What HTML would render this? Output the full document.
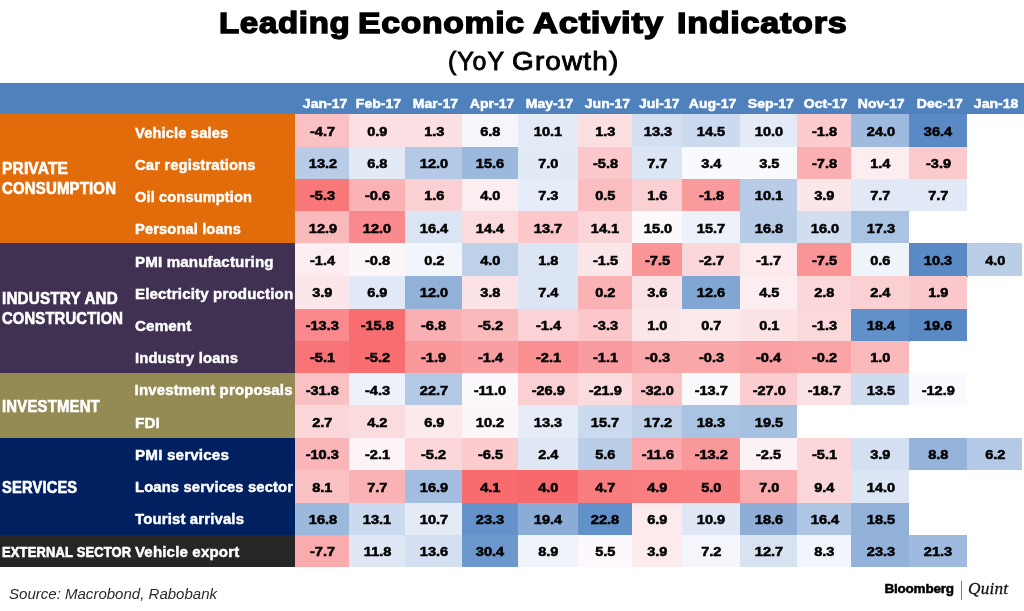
<!DOCTYPE html>
<html lang="en"><head><meta charset="utf-8"><title>Leading Economic Activity Indicators</title>
<style>
html,body{margin:0;padding:0;background:#fff}
body{width:1024px;height:611px;position:relative;overflow:hidden;font-family:"Liberation Sans",sans-serif}
.a{position:absolute}
.title{top:2.5px;font-weight:bold;font-size:30px;line-height:40px;color:#000;-webkit-text-stroke:1.4px #000;letter-spacing:.6px;white-space:nowrap}
h1,h2{margin:0;padding:0;font-size:0;line-height:0;font-weight:normal}
.title,.sub,.gl span,.rl span{display:inline-block;transform-origin:0 50%}
.sub{top:44px;font-size:25.5px;line-height:34px;color:#000;-webkit-text-stroke:.85px #000;letter-spacing:1px;white-space:nowrap}
.hdr{left:0;top:82.8px;width:1024px;height:31px;background:#4f81bd}
.hdr2{left:0;top:113px;width:966.5px;height:1.6px;background:#4f81bd}
.m{top:95.2px;height:18px;line-height:18px;text-align:center;color:#fff;font-weight:bold;font-size:13.3px;-webkit-text-stroke:.5px #fff;white-space:nowrap}
.m span{display:inline-block;transform:scaleX(1.055)}
.g{left:0;width:295.5px}
.gl{left:2.4px;color:#fff;font-weight:bold;font-size:16px;line-height:20px;-webkit-text-stroke:.6px #fff;letter-spacing:.2px;white-space:nowrap}
.rl{left:134.6px;color:#fff;font-weight:bold;font-size:15px;line-height:20px;-webkit-text-stroke:.45px #fff;letter-spacing:.15px;white-space:nowrap}
.c{text-align:center;color:#000;font-weight:bold;font-size:13.4px;height:20px;line-height:20px;-webkit-text-stroke:.55px #000;white-space:nowrap}
.c span{display:inline-block;transform:scaleX(1.09)}
.src{left:9.4px;top:583.5px;font-style:italic;font-size:14.6px;line-height:20px;color:#2b2b2b;white-space:nowrap}
.src span{display:inline-block;transform-origin:0 50%;transform:scaleX(1.03)}
.bb{left:884.4px;top:580px;font-weight:bold;font-size:13.5px;line-height:18px;color:#000;-webkit-text-stroke:.5px #000;letter-spacing:-.2px;white-space:nowrap}
.bar{left:960.7px;top:581px;width:1px;height:18.5px;background:#777}
.q{left:968.4px;top:576.9px;font-family:"Liberation Serif",serif;font-style:italic;font-size:17.5px;line-height:22px;color:#111;-webkit-text-stroke:.3px #111;letter-spacing:.2px;white-space:nowrap}
.q span{display:inline-block;transform-origin:0 50%;transform:scaleX(.985)}
</style></head><body>

<h1><span class="a title" style="left:218.69px;transform:scaleX(1.1017)">Leading</span> <span class="a title" style="left:357.60px;transform:scaleX(1.1253)">Economic</span> <span class="a title" style="left:533.00px;transform:scaleX(1.1540)">Activity</span> <span class="a title" style="left:677.22px;transform:scaleX(1.1408)">Indicators</span></h1>
<h2><span class="a sub" style="left:448.02px;transform:scaleX(0.9786)">(YoY</span> <span class="a sub" style="left:512.27px;transform:scaleX(1.0989)">Growth)</span></h2>
<div class="a hdr"></div><div class="a hdr2"></div>
<div class="a m" style="left:297.6px;width:54px"><span>Jan-17</span></div>
<div class="a m" style="left:350.6px;width:55.5px"><span>Feb-17</span></div>
<div class="a m" style="left:407.1px;width:57.5px"><span>Mar-17</span></div>
<div class="a m" style="left:464.4px;width:55.5px"><span>Apr-17</span></div>
<div class="a m" style="left:519.9px;width:60.0px"><span>May-17</span></div>
<div class="a m" style="left:580.3px;width:54.5px"><span>Jun-17</span></div>
<div class="a m" style="left:634.2px;width:50px"><span>Jul-17</span></div>
<div class="a m" style="left:684.0px;width:57.5px"><span>Aug-17</span></div>
<div class="a m" style="left:741.9px;width:57.5px"><span>Sep-17</span></div>
<div class="a m" style="left:798.7px;width:54px"><span>Oct-17</span></div>
<div class="a m" style="left:852.4px;width:58px"><span>Nov-17</span></div>
<div class="a m" style="left:911.2px;width:57.5px"><span>Dec-17</span></div>
<div class="a m" style="left:968.5px;width:55.5px"><span>Jan-18</span></div>
<div class="a g" style="top:113.8px;height:130.5px;background:#e36c0a"></div>
<div class="a gl" style="top:159.0px"><span style="transform:scaleX(0.967)">PRIVATE</span><br><span style="transform:scaleX(0.934)">CONSUMPTION</span></div>
<div class="a g" style="top:243.3px;height:130.4px;background:#403152"></div>
<div class="a gl" style="top:289.1px"><span style="transform:scaleX(0.952)">INDUSTRY AND</span><br><span style="transform:scaleX(0.923)">CONSTRUCTION</span></div>
<div class="a g" style="top:372.7px;height:65.9px;background:#948a54"></div>
<div class="a gl" style="top:397.2px"><span style="transform:scaleX(0.931)">INVESTMENT</span></div>
<div class="a g" style="top:437.6px;height:97.9px;background:#002060"></div>
<div class="a gl" style="top:477.6px"><span style="transform:scaleX(0.916)">SERVICES</span></div>
<div class="a g" style="top:534.5px;height:32.4px;background:#262626"></div>
<div class="a gl" style="top:542.1px"><span style="transform:scaleX(0.923);font-size:14px">EXTERNAL SECTOR</span></div>
<div class="a rl" style="top:122.7px"><span style="transform:scaleX(0.979)">Vehicle sales</span></div>
<div class="a cb" style="left:295px;top:113.8px;width:55px;height:33.7px;background:#fac1c4"></div>
<div class="a c" style="left:295.6px;top:121.6px;width:54px"><span>-4.7</span></div>
<div class="a cb" style="left:349px;top:113.8px;width:56.5px;height:33.7px;background:#fbe0e3"></div>
<div class="a c" style="left:349.6px;top:121.6px;width:55.5px"><span>0.9</span></div>
<div class="a cb" style="left:404.5px;top:113.8px;width:58.5px;height:33.7px;background:#fbe0e3"></div>
<div class="a c" style="left:405.1px;top:121.6px;width:57.5px"><span>1.3</span></div>
<div class="a cb" style="left:462px;top:113.8px;width:56.5px;height:33.7px;background:#f4f6fc"></div>
<div class="a c" style="left:462.6px;top:121.6px;width:55.5px"><span>6.8</span></div>
<div class="a cb" style="left:517.5px;top:113.8px;width:61.0px;height:33.7px;background:#e4ebf6"></div>
<div class="a c" style="left:518.1px;top:121.6px;width:60.0px"><span>10.1</span></div>
<div class="a cb" style="left:577.5px;top:113.8px;width:55.5px;height:33.7px;background:#fbdfe1"></div>
<div class="a c" style="left:578.1px;top:121.6px;width:54.5px"><span>1.3</span></div>
<div class="a cb" style="left:632px;top:113.8px;width:51px;height:33.7px;background:#d4e0f1"></div>
<div class="a c" style="left:632.6px;top:121.6px;width:50px"><span>13.3</span></div>
<div class="a cb" style="left:682px;top:113.8px;width:58.5px;height:33.7px;background:#cbdaee"></div>
<div class="a c" style="left:682.6px;top:121.6px;width:57.5px"><span>14.5</span></div>
<div class="a cb" style="left:739.5px;top:113.8px;width:58.5px;height:33.7px;background:#e4ebf6"></div>
<div class="a c" style="left:740.1px;top:121.6px;width:57.5px"><span>10.0</span></div>
<div class="a cb" style="left:797px;top:113.8px;width:55px;height:33.7px;background:#fbcbce"></div>
<div class="a c" style="left:797.6px;top:121.6px;width:54px"><span>-1.8</span></div>
<div class="a cb" style="left:851px;top:113.8px;width:59px;height:33.7px;background:#9ebade"></div>
<div class="a c" style="left:851.6px;top:121.6px;width:58px"><span>24.0</span></div>
<div class="a cb" style="left:909px;top:113.8px;width:57.5px;height:33.7px;background:#5a8ac6"></div>
<div class="a c" style="left:909.6px;top:121.6px;width:57.5px"><span>36.4</span></div>
<div class="a rl" style="top:154.9px"><span style="transform:scaleX(0.984)">Car registrations</span></div>
<div class="a cb" style="left:295px;top:146.5px;width:55px;height:33.3px;background:#b8cce7"></div>
<div class="a c" style="left:295.6px;top:154.0px;width:54px"><span>13.2</span></div>
<div class="a cb" style="left:349px;top:146.5px;width:56.5px;height:33.3px;background:#e2eaf6"></div>
<div class="a c" style="left:349.6px;top:154.0px;width:55.5px"><span>6.8</span></div>
<div class="a cb" style="left:404.5px;top:146.5px;width:58.5px;height:33.3px;background:#b3c9e5"></div>
<div class="a c" style="left:405.1px;top:154.0px;width:57.5px"><span>12.0</span></div>
<div class="a cb" style="left:462px;top:146.5px;width:56.5px;height:33.3px;background:#9bb8dd"></div>
<div class="a c" style="left:462.6px;top:154.0px;width:55.5px"><span>15.6</span></div>
<div class="a cb" style="left:517.5px;top:146.5px;width:61.0px;height:33.3px;background:#e2eaf6"></div>
<div class="a c" style="left:518.1px;top:154.0px;width:60.0px"><span>7.0</span></div>
<div class="a cb" style="left:577.5px;top:146.5px;width:55.5px;height:33.3px;background:#fbc9cb"></div>
<div class="a c" style="left:578.1px;top:154.0px;width:54.5px"><span>-5.8</span></div>
<div class="a cb" style="left:632px;top:146.5px;width:51px;height:33.3px;background:#dce5f4"></div>
<div class="a c" style="left:632.6px;top:154.0px;width:50px"><span>7.7</span></div>
<div class="a cb" style="left:682px;top:146.5px;width:58.5px;height:33.3px;background:#f9fafe"></div>
<div class="a c" style="left:682.6px;top:154.0px;width:57.5px"><span>3.4</span></div>
<div class="a cb" style="left:739.5px;top:146.5px;width:58.5px;height:33.3px;background:#f9fafe"></div>
<div class="a c" style="left:740.1px;top:154.0px;width:57.5px"><span>3.5</span></div>
<div class="a cb" style="left:797px;top:146.5px;width:55px;height:33.3px;background:#fab0b2"></div>
<div class="a c" style="left:797.6px;top:154.0px;width:54px"><span>-7.8</span></div>
<div class="a cb" style="left:851px;top:146.5px;width:59px;height:33.3px;background:#fcedf0"></div>
<div class="a c" style="left:851.6px;top:154.0px;width:58px"><span>1.4</span></div>
<div class="a cb" style="left:909px;top:146.5px;width:57.5px;height:33.3px;background:#fbcacd"></div>
<div class="a c" style="left:909.6px;top:154.0px;width:57.5px"><span>-3.9</span></div>
<div class="a rl" style="top:187.1px"><span style="transform:scaleX(0.971)">Oil consumption</span></div>
<div class="a cb" style="left:295px;top:178.8px;width:55px;height:33.0px;background:#f8787a"></div>
<div class="a c" style="left:295.6px;top:186.3px;width:54px"><span>-5.3</span></div>
<div class="a cb" style="left:349px;top:178.8px;width:56.5px;height:33.0px;background:#fab2b5"></div>
<div class="a c" style="left:349.6px;top:186.3px;width:55.5px"><span>-0.6</span></div>
<div class="a cb" style="left:404.5px;top:178.8px;width:58.5px;height:33.0px;background:#fbd0d3"></div>
<div class="a c" style="left:405.1px;top:186.3px;width:57.5px"><span>1.6</span></div>
<div class="a cb" style="left:462px;top:178.8px;width:56.5px;height:33.0px;background:#fcedf0"></div>
<div class="a c" style="left:462.6px;top:186.3px;width:55.5px"><span>4.0</span></div>
<div class="a cb" style="left:517.5px;top:178.8px;width:61.0px;height:33.0px;background:#e7edf8"></div>
<div class="a c" style="left:518.1px;top:186.3px;width:60.0px"><span>7.3</span></div>
<div class="a cb" style="left:577.5px;top:178.8px;width:55.5px;height:33.0px;background:#fabec1"></div>
<div class="a c" style="left:578.1px;top:186.3px;width:54.5px"><span>0.5</span></div>
<div class="a cb" style="left:632px;top:178.8px;width:51px;height:33.0px;background:#fbd0d3"></div>
<div class="a c" style="left:632.6px;top:186.3px;width:50px"><span>1.6</span></div>
<div class="a cb" style="left:682px;top:178.8px;width:58.5px;height:33.0px;background:#f99b9d"></div>
<div class="a c" style="left:682.6px;top:186.3px;width:57.5px"><span>-1.8</span></div>
<div class="a cb" style="left:739.5px;top:178.8px;width:58.5px;height:33.0px;background:#b8cce7"></div>
<div class="a c" style="left:740.1px;top:186.3px;width:57.5px"><span>10.1</span></div>
<div class="a cb" style="left:797px;top:178.8px;width:55px;height:33.0px;background:#fbe7ea"></div>
<div class="a c" style="left:797.6px;top:186.3px;width:54px"><span>3.9</span></div>
<div class="a cb" style="left:851px;top:178.8px;width:59px;height:33.0px;background:#e0e9f5"></div>
<div class="a c" style="left:851.6px;top:186.3px;width:58px"><span>7.7</span></div>
<div class="a cb" style="left:909px;top:178.8px;width:57.5px;height:32.0px;background:#e0e9f5"></div>
<div class="a c" style="left:909.6px;top:186.3px;width:57.5px"><span>7.7</span></div>
<div class="a rl" style="top:219.3px"><span style="transform:scaleX(0.975)">Personal loans</span></div>
<div class="a cb" style="left:295px;top:210.8px;width:55px;height:33.5px;background:#fababc"></div>
<div class="a c" style="left:295.6px;top:218.7px;width:54px"><span>12.9</span></div>
<div class="a cb" style="left:349px;top:210.8px;width:56.5px;height:33.5px;background:#f9898c"></div>
<div class="a c" style="left:349.6px;top:218.7px;width:55.5px"><span>12.0</span></div>
<div class="a cb" style="left:404.5px;top:210.8px;width:58.5px;height:33.5px;background:#dae4f3"></div>
<div class="a c" style="left:405.1px;top:218.7px;width:57.5px"><span>16.4</span></div>
<div class="a cb" style="left:462px;top:210.8px;width:56.5px;height:33.5px;background:#fbdcde"></div>
<div class="a c" style="left:462.6px;top:218.7px;width:55.5px"><span>14.4</span></div>
<div class="a cb" style="left:517.5px;top:210.8px;width:61.0px;height:33.5px;background:#fbc7ca"></div>
<div class="a c" style="left:518.1px;top:218.7px;width:60.0px"><span>13.7</span></div>
<div class="a cb" style="left:577.5px;top:210.8px;width:55.5px;height:33.5px;background:#fbd6d9"></div>
<div class="a c" style="left:578.1px;top:218.7px;width:54.5px"><span>14.1</span></div>
<div class="a cb" style="left:632px;top:210.8px;width:51px;height:33.5px;background:#fcf9fc"></div>
<div class="a c" style="left:632.6px;top:218.7px;width:50px"><span>15.0</span></div>
<div class="a cb" style="left:682px;top:210.8px;width:58.5px;height:33.5px;background:#edf2fa"></div>
<div class="a c" style="left:682.6px;top:218.7px;width:57.5px"><span>15.7</span></div>
<div class="a cb" style="left:739.5px;top:210.8px;width:58.5px;height:33.5px;background:#b6cbe6"></div>
<div class="a c" style="left:740.1px;top:218.7px;width:57.5px"><span>16.8</span></div>
<div class="a cb" style="left:797px;top:210.8px;width:55px;height:33.5px;background:#d2def0"></div>
<div class="a c" style="left:797.6px;top:218.7px;width:54px"><span>16.0</span></div>
<div class="a cb" style="left:851px;top:210.8px;width:58px;height:33.5px;background:#abc3e2"></div>
<div class="a c" style="left:851.6px;top:218.7px;width:58px"><span>17.3</span></div>
<div class="a rl" style="top:251.6px"><span style="transform:scaleX(1.008)">PMI manufacturing</span></div>
<div class="a cb" style="left:295px;top:243.3px;width:55px;height:33.7px;background:#fcedf0"></div>
<div class="a c" style="left:295.6px;top:251.1px;width:54px"><span>-1.4</span></div>
<div class="a cb" style="left:349px;top:243.3px;width:56.5px;height:33.7px;background:#fcf6f9"></div>
<div class="a c" style="left:349.6px;top:251.1px;width:55.5px"><span>-0.8</span></div>
<div class="a cb" style="left:404.5px;top:243.3px;width:58.5px;height:33.7px;background:#f2f5fc"></div>
<div class="a c" style="left:405.1px;top:251.1px;width:57.5px"><span>0.2</span></div>
<div class="a cb" style="left:462px;top:243.3px;width:56.5px;height:33.7px;background:#bed1e9"></div>
<div class="a c" style="left:462.6px;top:251.1px;width:55.5px"><span>4.0</span></div>
<div class="a cb" style="left:517.5px;top:243.3px;width:61.0px;height:33.7px;background:#dce5f4"></div>
<div class="a c" style="left:518.1px;top:251.1px;width:60.0px"><span>1.8</span></div>
<div class="a cb" style="left:577.5px;top:243.3px;width:55.5px;height:33.7px;background:#fbe7ea"></div>
<div class="a c" style="left:578.1px;top:251.1px;width:54.5px"><span>-1.5</span></div>
<div class="a cb" style="left:632px;top:243.3px;width:51px;height:33.7px;background:#f99597"></div>
<div class="a c" style="left:632.6px;top:251.1px;width:50px"><span>-7.5</span></div>
<div class="a cb" style="left:682px;top:243.3px;width:58.5px;height:33.7px;background:#fbd7da"></div>
<div class="a c" style="left:682.6px;top:251.1px;width:57.5px"><span>-2.7</span></div>
<div class="a cb" style="left:739.5px;top:243.3px;width:58.5px;height:33.7px;background:#fceaed"></div>
<div class="a c" style="left:740.1px;top:251.1px;width:57.5px"><span>-1.7</span></div>
<div class="a cb" style="left:797px;top:243.3px;width:55px;height:33.7px;background:#f99597"></div>
<div class="a c" style="left:797.6px;top:251.1px;width:54px"><span>-7.5</span></div>
<div class="a cb" style="left:851px;top:243.3px;width:59px;height:33.7px;background:#eff3fa"></div>
<div class="a c" style="left:851.6px;top:251.1px;width:58px"><span>0.6</span></div>
<div class="a cb" style="left:909px;top:243.3px;width:58.5px;height:33.7px;background:#5a8ac6"></div>
<div class="a c" style="left:909.6px;top:251.1px;width:57.5px"><span>10.3</span></div>
<div class="a cb" style="left:966.5px;top:243.3px;width:55.5px;height:32.7px;background:#bbcee8"></div>
<div class="a c" style="left:967.1px;top:251.1px;width:55.5px"><span>4.0</span></div>
<div class="a rl" style="top:283.8px"><span style="transform:scaleX(1.005)">Electricity production</span></div>
<div class="a cb" style="left:295px;top:276.0px;width:55px;height:33.5px;background:#fbe6e9"></div>
<div class="a c" style="left:295.6px;top:283.4px;width:54px"><span>3.9</span></div>
<div class="a cb" style="left:349px;top:276.0px;width:56.5px;height:33.5px;background:#e0e9f5"></div>
<div class="a c" style="left:349.6px;top:283.4px;width:55.5px"><span>6.9</span></div>
<div class="a cb" style="left:404.5px;top:276.0px;width:58.5px;height:33.5px;background:#91b1d9"></div>
<div class="a c" style="left:405.1px;top:283.4px;width:57.5px"><span>12.0</span></div>
<div class="a cb" style="left:462px;top:276.0px;width:56.5px;height:33.5px;background:#fbe2e4"></div>
<div class="a c" style="left:462.6px;top:283.4px;width:55.5px"><span>3.8</span></div>
<div class="a cb" style="left:517.5px;top:276.0px;width:61.0px;height:33.5px;background:#dce5f4"></div>
<div class="a c" style="left:518.1px;top:283.4px;width:60.0px"><span>7.4</span></div>
<div class="a cb" style="left:577.5px;top:276.0px;width:55.5px;height:33.5px;background:#fab2b5"></div>
<div class="a c" style="left:578.1px;top:283.4px;width:54.5px"><span>0.2</span></div>
<div class="a cb" style="left:632px;top:276.0px;width:51px;height:33.5px;background:#fbe2e4"></div>
<div class="a c" style="left:632.6px;top:283.4px;width:50px"><span>3.6</span></div>
<div class="a cb" style="left:682px;top:276.0px;width:58.5px;height:33.5px;background:#82a6d4"></div>
<div class="a c" style="left:682.6px;top:283.4px;width:57.5px"><span>12.6</span></div>
<div class="a cb" style="left:739.5px;top:276.0px;width:58.5px;height:33.5px;background:#fcedf0"></div>
<div class="a c" style="left:740.1px;top:283.4px;width:57.5px"><span>4.5</span></div>
<div class="a cb" style="left:797px;top:276.0px;width:55px;height:33.5px;background:#fbd7da"></div>
<div class="a c" style="left:797.6px;top:283.4px;width:54px"><span>2.8</span></div>
<div class="a cb" style="left:851px;top:276.0px;width:59px;height:33.5px;background:#fbd0d3"></div>
<div class="a c" style="left:851.6px;top:283.4px;width:58px"><span>2.4</span></div>
<div class="a cb" style="left:909px;top:276.0px;width:57.5px;height:33.5px;background:#fbc9cb"></div>
<div class="a c" style="left:909.6px;top:283.4px;width:57.5px"><span>1.9</span></div>
<div class="a rl" style="top:316.0px"><span style="transform:scaleX(1.01)">Cement</span></div>
<div class="a cb" style="left:295px;top:308.5px;width:55px;height:33.5px;background:#f9898c"></div>
<div class="a c" style="left:295.6px;top:315.8px;width:54px"><span>-13.3</span></div>
<div class="a cb" style="left:349px;top:308.5px;width:56.5px;height:33.5px;background:#f86d6f"></div>
<div class="a c" style="left:349.6px;top:315.8px;width:55.5px"><span>-15.8</span></div>
<div class="a cb" style="left:404.5px;top:308.5px;width:58.5px;height:33.5px;background:#fab0b2"></div>
<div class="a c" style="left:405.1px;top:315.8px;width:57.5px"><span>-6.8</span></div>
<div class="a cb" style="left:462px;top:308.5px;width:56.5px;height:33.5px;background:#fababc"></div>
<div class="a c" style="left:462.6px;top:315.8px;width:55.5px"><span>-5.2</span></div>
<div class="a cb" style="left:517.5px;top:308.5px;width:61.0px;height:33.5px;background:#fbd3d6"></div>
<div class="a c" style="left:518.1px;top:315.8px;width:60.0px"><span>-1.4</span></div>
<div class="a cb" style="left:577.5px;top:308.5px;width:55.5px;height:33.5px;background:#fbc7ca"></div>
<div class="a c" style="left:578.1px;top:315.8px;width:54.5px"><span>-3.3</span></div>
<div class="a cb" style="left:632px;top:308.5px;width:51px;height:33.5px;background:#fbe6e9"></div>
<div class="a c" style="left:632.6px;top:315.8px;width:50px"><span>1.0</span></div>
<div class="a cb" style="left:682px;top:308.5px;width:58.5px;height:33.5px;background:#fbe9ec"></div>
<div class="a c" style="left:682.6px;top:315.8px;width:57.5px"><span>0.7</span></div>
<div class="a cb" style="left:739.5px;top:308.5px;width:58.5px;height:33.5px;background:#fbe3e6"></div>
<div class="a c" style="left:740.1px;top:315.8px;width:57.5px"><span>0.1</span></div>
<div class="a cb" style="left:797px;top:308.5px;width:55px;height:33.5px;background:#fbd9db"></div>
<div class="a c" style="left:797.6px;top:315.8px;width:54px"><span>-1.3</span></div>
<div class="a cb" style="left:851px;top:308.5px;width:59px;height:33.5px;background:#6290c9"></div>
<div class="a c" style="left:851.6px;top:315.8px;width:58px"><span>18.4</span></div>
<div class="a cb" style="left:909px;top:308.5px;width:57.5px;height:32.5px;background:#5a8ac6"></div>
<div class="a c" style="left:909.6px;top:315.8px;width:57.5px"><span>19.6</span></div>
<div class="a rl" style="top:348.2px"><span style="transform:scaleX(0.985)">Industry loans</span></div>
<div class="a cb" style="left:295px;top:341.0px;width:55px;height:32.7px;background:#f87375"></div>
<div class="a c" style="left:295.6px;top:348.2px;width:54px"><span>-5.1</span></div>
<div class="a cb" style="left:349px;top:341.0px;width:56.5px;height:32.7px;background:#f86d6f"></div>
<div class="a c" style="left:349.6px;top:348.2px;width:55.5px"><span>-5.2</span></div>
<div class="a cb" style="left:404.5px;top:341.0px;width:58.5px;height:32.7px;background:#f9989a"></div>
<div class="a c" style="left:405.1px;top:348.2px;width:57.5px"><span>-1.9</span></div>
<div class="a cb" style="left:462px;top:341.0px;width:56.5px;height:32.7px;background:#f99fa2"></div>
<div class="a c" style="left:462.6px;top:348.2px;width:55.5px"><span>-1.4</span></div>
<div class="a cb" style="left:517.5px;top:341.0px;width:61.0px;height:32.7px;background:#f98f91"></div>
<div class="a c" style="left:518.1px;top:348.2px;width:60.0px"><span>-2.1</span></div>
<div class="a cb" style="left:577.5px;top:341.0px;width:55.5px;height:32.7px;background:#f99c9f"></div>
<div class="a c" style="left:578.1px;top:348.2px;width:54.5px"><span>-1.1</span></div>
<div class="a cb" style="left:632px;top:341.0px;width:51px;height:32.7px;background:#faa7a9"></div>
<div class="a c" style="left:632.6px;top:348.2px;width:50px"><span>-0.3</span></div>
<div class="a cb" style="left:682px;top:341.0px;width:58.5px;height:32.7px;background:#faa7a9"></div>
<div class="a c" style="left:682.6px;top:348.2px;width:57.5px"><span>-0.3</span></div>
<div class="a cb" style="left:739.5px;top:341.0px;width:58.5px;height:32.7px;background:#faa1a3"></div>
<div class="a c" style="left:740.1px;top:348.2px;width:57.5px"><span>-0.4</span></div>
<div class="a cb" style="left:797px;top:341.0px;width:55px;height:32.7px;background:#faa4a6"></div>
<div class="a c" style="left:797.6px;top:348.2px;width:54px"><span>-0.2</span></div>
<div class="a cb" style="left:851px;top:341.0px;width:58px;height:32.7px;background:#fababc"></div>
<div class="a c" style="left:851.6px;top:348.2px;width:58px"><span>1.0</span></div>
<div class="a rl" style="top:380.4px"><span style="transform:scaleX(1.0)">Investment proposals</span></div>
<div class="a cb" style="left:295px;top:372.7px;width:55px;height:33.6px;background:#fac1c4"></div>
<div class="a c" style="left:295.6px;top:380.6px;width:54px"><span>-31.8</span></div>
<div class="a cb" style="left:349px;top:372.7px;width:56.5px;height:33.6px;background:#edf2fa"></div>
<div class="a c" style="left:349.6px;top:380.6px;width:55.5px"><span>-4.3</span></div>
<div class="a cb" style="left:404.5px;top:372.7px;width:58.5px;height:33.6px;background:#b3c9e5"></div>
<div class="a c" style="left:405.1px;top:380.6px;width:57.5px"><span>22.7</span></div>
<div class="a cb" style="left:462px;top:372.7px;width:56.5px;height:33.6px;background:#fcf9fc"></div>
<div class="a c" style="left:462.6px;top:380.6px;width:55.5px"><span>-11.0</span></div>
<div class="a cb" style="left:517.5px;top:372.7px;width:61.0px;height:33.6px;background:#fbd0d3"></div>
<div class="a c" style="left:518.1px;top:380.6px;width:60.0px"><span>-26.9</span></div>
<div class="a cb" style="left:577.5px;top:372.7px;width:55.5px;height:33.6px;background:#fbdcde"></div>
<div class="a c" style="left:578.1px;top:380.6px;width:54.5px"><span>-21.9</span></div>
<div class="a cb" style="left:632px;top:372.7px;width:51px;height:33.6px;background:#fac4c7"></div>
<div class="a c" style="left:632.6px;top:380.6px;width:50px"><span>-32.0</span></div>
<div class="a cb" style="left:682px;top:372.7px;width:58.5px;height:33.6px;background:#fcf9fc"></div>
<div class="a c" style="left:682.6px;top:380.6px;width:57.5px"><span>-13.7</span></div>
<div class="a cb" style="left:739.5px;top:372.7px;width:58.5px;height:33.6px;background:#fbcdd0"></div>
<div class="a c" style="left:740.1px;top:380.6px;width:57.5px"><span>-27.0</span></div>
<div class="a cb" style="left:797px;top:372.7px;width:55px;height:32.6px;background:#fbe2e4"></div>
<div class="a c" style="left:797.6px;top:380.6px;width:54px"><span>-18.7</span></div>
<div class="a cb" style="left:851px;top:372.7px;width:59px;height:32.6px;background:#cfdcef"></div>
<div class="a c" style="left:851.6px;top:380.6px;width:58px"><span>13.5</span></div>
<div class="a cb" style="left:909px;top:372.7px;width:57.5px;height:32.6px;background:#f9fafe"></div>
<div class="a c" style="left:909.6px;top:380.6px;width:57.5px"><span>-12.9</span></div>
<div class="a rl" style="top:412.6px"><span style="transform:scaleX(1.01)">FDI</span></div>
<div class="a cb" style="left:295px;top:405.3px;width:55px;height:33.3px;background:#fbd7da"></div>
<div class="a c" style="left:295.6px;top:412.9px;width:54px"><span>2.7</span></div>
<div class="a cb" style="left:349px;top:405.3px;width:56.5px;height:33.3px;background:#fbdcde"></div>
<div class="a c" style="left:349.6px;top:412.9px;width:55.5px"><span>4.2</span></div>
<div class="a cb" style="left:404.5px;top:405.3px;width:58.5px;height:33.3px;background:#fbe9ec"></div>
<div class="a c" style="left:405.1px;top:412.9px;width:57.5px"><span>6.9</span></div>
<div class="a cb" style="left:462px;top:405.3px;width:56.5px;height:33.3px;background:#fcf6f9"></div>
<div class="a c" style="left:462.6px;top:412.9px;width:55.5px"><span>10.2</span></div>
<div class="a cb" style="left:517.5px;top:405.3px;width:61.0px;height:33.3px;background:#e7edf8"></div>
<div class="a c" style="left:518.1px;top:412.9px;width:60.0px"><span>13.3</span></div>
<div class="a cb" style="left:577.5px;top:405.3px;width:55.5px;height:33.3px;background:#cbdaee"></div>
<div class="a c" style="left:578.1px;top:412.9px;width:54.5px"><span>15.7</span></div>
<div class="a cb" style="left:632px;top:405.3px;width:51px;height:33.3px;background:#bed1e9"></div>
<div class="a c" style="left:632.6px;top:412.9px;width:50px"><span>17.2</span></div>
<div class="a cb" style="left:682px;top:405.3px;width:58.5px;height:33.3px;background:#abc3e2"></div>
<div class="a c" style="left:682.6px;top:412.9px;width:57.5px"><span>18.3</span></div>
<div class="a cb" style="left:739.5px;top:405.3px;width:57.5px;height:33.3px;background:#a6c0e1"></div>
<div class="a c" style="left:740.1px;top:412.9px;width:57.5px"><span>19.5</span></div>
<div class="a rl" style="top:444.9px"><span style="transform:scaleX(1.015)">PMI services</span></div>
<div class="a cb" style="left:295px;top:437.6px;width:55px;height:33.4px;background:#fab5b8"></div>
<div class="a c" style="left:295.6px;top:445.3px;width:54px"><span>-10.3</span></div>
<div class="a cb" style="left:349px;top:437.6px;width:56.5px;height:33.4px;background:#fcf3f6"></div>
<div class="a c" style="left:349.6px;top:445.3px;width:55.5px"><span>-2.1</span></div>
<div class="a cb" style="left:404.5px;top:437.6px;width:58.5px;height:33.4px;background:#fbd7da"></div>
<div class="a c" style="left:405.1px;top:445.3px;width:57.5px"><span>-5.2</span></div>
<div class="a cb" style="left:462px;top:437.6px;width:56.5px;height:33.4px;background:#fbcbce"></div>
<div class="a c" style="left:462.6px;top:445.3px;width:55.5px"><span>-6.5</span></div>
<div class="a cb" style="left:517.5px;top:437.6px;width:61.0px;height:33.4px;background:#dfe7f5"></div>
<div class="a c" style="left:518.1px;top:445.3px;width:60.0px"><span>2.4</span></div>
<div class="a cb" style="left:577.5px;top:437.6px;width:55.5px;height:33.4px;background:#bbcee8"></div>
<div class="a c" style="left:578.1px;top:445.3px;width:54.5px"><span>5.6</span></div>
<div class="a cb" style="left:632px;top:437.6px;width:51px;height:33.4px;background:#faa8ab"></div>
<div class="a c" style="left:632.6px;top:445.3px;width:50px"><span>-11.6</span></div>
<div class="a cb" style="left:682px;top:437.6px;width:58.5px;height:33.4px;background:#f9989a"></div>
<div class="a c" style="left:682.6px;top:445.3px;width:57.5px"><span>-13.2</span></div>
<div class="a cb" style="left:739.5px;top:437.6px;width:58.5px;height:33.4px;background:#fcf2f5"></div>
<div class="a c" style="left:740.1px;top:445.3px;width:57.5px"><span>-2.5</span></div>
<div class="a cb" style="left:797px;top:437.6px;width:55px;height:33.4px;background:#fbd7da"></div>
<div class="a c" style="left:797.6px;top:445.3px;width:54px"><span>-5.1</span></div>
<div class="a cb" style="left:851px;top:437.6px;width:59px;height:33.4px;background:#d4e0f1"></div>
<div class="a c" style="left:851.6px;top:445.3px;width:58px"><span>3.9</span></div>
<div class="a cb" style="left:909px;top:437.6px;width:58.5px;height:32.4px;background:#96b4db"></div>
<div class="a c" style="left:909.6px;top:445.3px;width:57.5px"><span>8.8</span></div>
<div class="a cb" style="left:966.5px;top:437.6px;width:55.5px;height:32.4px;background:#b3c9e5"></div>
<div class="a c" style="left:967.1px;top:445.3px;width:55.5px"><span>6.2</span></div>
<div class="a rl" style="top:477.1px"><span style="transform:scaleX(0.984)">Loans services sector</span></div>
<div class="a cb" style="left:295px;top:470.0px;width:55px;height:33.5px;background:#fac1c4"></div>
<div class="a c" style="left:295.6px;top:477.7px;width:54px"><span>8.1</span></div>
<div class="a cb" style="left:349px;top:470.0px;width:56.5px;height:33.5px;background:#fab2b5"></div>
<div class="a c" style="left:349.6px;top:477.7px;width:55.5px"><span>7.7</span></div>
<div class="a cb" style="left:404.5px;top:470.0px;width:58.5px;height:33.5px;background:#a3bde0"></div>
<div class="a c" style="left:405.1px;top:477.7px;width:57.5px"><span>16.9</span></div>
<div class="a cb" style="left:462px;top:470.0px;width:56.5px;height:33.5px;background:#f86c6e"></div>
<div class="a c" style="left:462.6px;top:477.7px;width:55.5px"><span>4.1</span></div>
<div class="a cb" style="left:517.5px;top:470.0px;width:61.0px;height:33.5px;background:#f8696b"></div>
<div class="a c" style="left:518.1px;top:477.7px;width:60.0px"><span>4.0</span></div>
<div class="a cb" style="left:577.5px;top:470.0px;width:55.5px;height:33.5px;background:#f97c7e"></div>
<div class="a c" style="left:578.1px;top:477.7px;width:54.5px"><span>4.7</span></div>
<div class="a cb" style="left:632px;top:470.0px;width:51px;height:33.5px;background:#f97f81"></div>
<div class="a c" style="left:632.6px;top:477.7px;width:50px"><span>4.9</span></div>
<div class="a cb" style="left:682px;top:470.0px;width:58.5px;height:33.5px;background:#f98183"></div>
<div class="a c" style="left:682.6px;top:477.7px;width:57.5px"><span>5.0</span></div>
<div class="a cb" style="left:739.5px;top:470.0px;width:58.5px;height:33.5px;background:#faabae"></div>
<div class="a c" style="left:740.1px;top:477.7px;width:57.5px"><span>7.0</span></div>
<div class="a cb" style="left:797px;top:470.0px;width:55px;height:33.5px;background:#fbd7da"></div>
<div class="a c" style="left:797.6px;top:477.7px;width:54px"><span>9.4</span></div>
<div class="a cb" style="left:851px;top:470.0px;width:58px;height:33.5px;background:#dce5f4"></div>
<div class="a c" style="left:851.6px;top:477.7px;width:58px"><span>14.0</span></div>
<div class="a rl" style="top:509.3px"><span style="transform:scaleX(0.995)">Tourist arrivals</span></div>
<div class="a cb" style="left:295px;top:502.5px;width:55px;height:33.0px;background:#9bb8dd"></div>
<div class="a c" style="left:295.6px;top:510.0px;width:54px"><span>16.8</span></div>
<div class="a cb" style="left:349px;top:502.5px;width:56.5px;height:33.0px;background:#cbdaee"></div>
<div class="a c" style="left:349.6px;top:510.0px;width:55.5px"><span>13.1</span></div>
<div class="a cb" style="left:404.5px;top:502.5px;width:58.5px;height:33.0px;background:#e4ebf6"></div>
<div class="a c" style="left:405.1px;top:510.0px;width:57.5px"><span>10.7</span></div>
<div class="a cb" style="left:462px;top:502.5px;width:56.5px;height:33.0px;background:#6592ca"></div>
<div class="a c" style="left:462.6px;top:510.0px;width:55.5px"><span>23.3</span></div>
<div class="a cb" style="left:517.5px;top:502.5px;width:61.0px;height:33.0px;background:#8bacd7"></div>
<div class="a c" style="left:518.1px;top:510.0px;width:60.0px"><span>19.4</span></div>
<div class="a cb" style="left:577.5px;top:502.5px;width:55.5px;height:33.0px;background:#6290c9"></div>
<div class="a c" style="left:578.1px;top:510.0px;width:54.5px"><span>22.8</span></div>
<div class="a cb" style="left:632px;top:502.5px;width:51px;height:33.0px;background:#fceaed"></div>
<div class="a c" style="left:632.6px;top:510.0px;width:50px"><span>6.9</span></div>
<div class="a cb" style="left:682px;top:502.5px;width:58.5px;height:33.0px;background:#dfe7f5"></div>
<div class="a c" style="left:682.6px;top:510.0px;width:57.5px"><span>10.9</span></div>
<div class="a cb" style="left:739.5px;top:502.5px;width:58.5px;height:33.0px;background:#8eaed8"></div>
<div class="a c" style="left:740.1px;top:510.0px;width:57.5px"><span>18.6</span></div>
<div class="a cb" style="left:797px;top:502.5px;width:55px;height:33.0px;background:#aec5e4"></div>
<div class="a c" style="left:797.6px;top:510.0px;width:54px"><span>16.4</span></div>
<div class="a cb" style="left:851px;top:502.5px;width:58px;height:33.0px;background:#91b1d9"></div>
<div class="a c" style="left:851.6px;top:510.0px;width:58px"><span>18.5</span></div>
<div class="a rl" style="top:541.5px"><span style="transform:scaleX(1.005)">Vehicle export</span></div>
<div class="a cb" style="left:295px;top:534.5px;width:55px;height:32.4px;background:#faabae"></div>
<div class="a c" style="left:295.6px;top:542.4px;width:54px"><span>-7.7</span></div>
<div class="a cb" style="left:349px;top:534.5px;width:56.5px;height:32.4px;background:#dfe7f5"></div>
<div class="a c" style="left:349.6px;top:542.4px;width:55.5px"><span>11.8</span></div>
<div class="a cb" style="left:404.5px;top:534.5px;width:58.5px;height:32.4px;background:#d4e0f1"></div>
<div class="a c" style="left:405.1px;top:542.4px;width:57.5px"><span>13.6</span></div>
<div class="a cb" style="left:462px;top:534.5px;width:56.5px;height:32.4px;background:#6d98cd"></div>
<div class="a c" style="left:462.6px;top:542.4px;width:55.5px"><span>30.4</span></div>
<div class="a cb" style="left:517.5px;top:534.5px;width:61.0px;height:32.4px;background:#eff3fa"></div>
<div class="a c" style="left:518.1px;top:542.4px;width:60.0px"><span>8.9</span></div>
<div class="a cb" style="left:577.5px;top:534.5px;width:55.5px;height:32.4px;background:#fcf8fb"></div>
<div class="a c" style="left:578.1px;top:542.4px;width:54.5px"><span>5.5</span></div>
<div class="a cb" style="left:632px;top:534.5px;width:51px;height:32.4px;background:#fceaed"></div>
<div class="a c" style="left:632.6px;top:542.4px;width:50px"><span>3.9</span></div>
<div class="a cb" style="left:682px;top:534.5px;width:58.5px;height:32.4px;background:#f4f6fc"></div>
<div class="a c" style="left:682.6px;top:542.4px;width:57.5px"><span>7.2</span></div>
<div class="a cb" style="left:739.5px;top:534.5px;width:58.5px;height:32.4px;background:#d8e3f2"></div>
<div class="a c" style="left:740.1px;top:542.4px;width:57.5px"><span>12.7</span></div>
<div class="a cb" style="left:797px;top:534.5px;width:55px;height:32.4px;background:#f2f5fc"></div>
<div class="a c" style="left:797.6px;top:542.4px;width:54px"><span>8.3</span></div>
<div class="a cb" style="left:851px;top:534.5px;width:59px;height:32.4px;background:#93b2da"></div>
<div class="a c" style="left:851.6px;top:542.4px;width:58px"><span>23.3</span></div>
<div class="a cb" style="left:909px;top:534.5px;width:57.5px;height:32.4px;background:#9ebade"></div>
<div class="a c" style="left:909.6px;top:542.4px;width:57.5px"><span>21.3</span></div>
<div class="a src"><span>Source: Macrobond, Rabobank</span></div>
<div class="a bb">Bloomberg</div><div class="a bar"></div><div class="a q"><span>Quint</span></div>
</body></html>
